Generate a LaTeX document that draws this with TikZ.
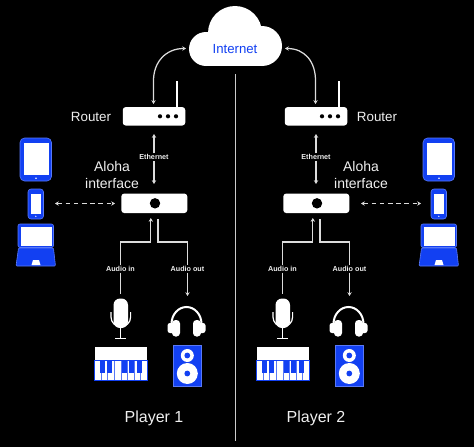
\documentclass[tikz,border=0pt]{standalone}
\usepackage{fontspec}
\setmainfont{Liberation Sans}
\usetikzlibrary{arrows.meta}
\definecolor{aloha}{HTML}{1240F2}
\definecolor{ink}{HTML}{EFEFEF}
\tikzset{
  wire/.style={draw=ink!92!black,line width=1.25pt},
  arr/.style={wire,{Stealth[length=3.8pt,width=4.4pt]}-{Stealth[length=3.8pt,width=4.4pt]}},
  arrend/.style={wire,-{Stealth[length=3.8pt,width=4.4pt]}},
  dash arr/.style={arr,dash pattern=on 4.6pt off 3.6pt},
  box/.style={fill=white,rounded corners=3pt,inner sep=0pt,minimum height=#1},
  lab/.style={text=ink,font=\fontsize{14}{16.5}\selectfont,align=center,inner sep=0pt},
  small/.style={text=ink,font=\bfseries\fontsize{7.2}{9}\selectfont,inner sep=1pt},
  blueline/.style={draw=aloha,line width=.9pt},
}
\newcommand{\devices}[2]{%
\begin{scope}[shift={(#2,0)}]
  % tablet
  \filldraw[fill=aloha,draw=aloha!70!white,line width=.6pt,rounded corners=4.5pt] (20,138) rectangle (51.5,181);
  \fill[white] (23.5,143) rectangle (48.5,175);
  \fill[white] (36,178.2) circle (.9);
  % phone
  \filldraw[fill=aloha,draw=aloha!70!white,line width=.6pt,rounded corners=3pt] (28,189) rectangle (43.5,219);
  \fill[white] (31,193.5) rectangle (41,213.5);
  \fill[white] (35.8,216.3) circle (.7);
  \coordinate (#1devR) at (55,203.5);
  \coordinate (#1devL) at (18,203.5);
  % laptop
  \filldraw[fill=aloha,draw=aloha!70!white,line width=.6pt,rounded corners=2pt] (18,224) rectangle (53.5,247.5);
  \fill[white] (20.5,226.5) rectangle (51.5,245.5);
  \filldraw[fill=aloha,draw=aloha!70!white,line width=.6pt,rounded corners=1pt] (18.5,248) -- (53.5,248) -- (55.5,266) -- (16,266) -- cycle;
  \fill[white] (33,260) -- (39,260) -- (40.5,265) -- (31.5,265) -- cycle;
\end{scope}}
\newcommand{\player}[3]{%
\begin{scope}[shift={(#2,0)}]
  % router
  \draw[white,line width=1.8pt] (177,81) -- (177,108);
  \node[box=18.5pt,minimum width=62.5pt] (#1router) at (154,116.3) {};
  \foreach \x in {160,168,176} \fill[black] (\x,116.3) circle (2.1);
  % interface
  \node[box=19.5pt,minimum width=66pt] (#1iface) at (154.3,203.3) {};
  \fill[black] (155,203.3) circle (5.2);
  % ethernet
  \node[small] (#1eth) at (154,157.3) {Ethernet};
  % audio labels
  \node[small] (#1in) at (120.5,268.7) {Audio in};
  \node[small] (#1out) at (187.5,268.7) {Audio out};
  % mic
  \fill[white,rounded corners=6.5pt] (113.5,298.5) rectangle (128,328);
  \node[inner sep=0pt,minimum size=0pt] (#1mic) at (120.7,294) {};
  \draw[white,line width=1.2pt] (111,312) -- (111,317) arc[start angle=180,end angle=0,radius=9.8] -- (130.6,312);
  \draw[white,line width=1.3pt] (120.7,327) -- (120.7,338) (115,338.5) -- (126.3,338.5);
  % headphones
  \draw[white,line width=2pt] (171.5,324) arc[start angle=180,end angle=360,x radius=15,y radius=17];
  \fill[white,rounded corners=3.5pt] (172,320) rectangle (180,336.5);
  \fill[white,rounded corners=3.5pt] (193,320) rectangle (201,336.5);
  \fill[white,rounded corners=2.5pt] (167.5,323) rectangle (175,333);
  \fill[white,rounded corners=2.5pt] (198,323) rectangle (205.5,333);
  \node[inner sep=0pt,minimum size=0pt] (#1phones) at (187.5,296) {};
  % keyboard
  \fill[white] (94.5,347) rectangle (147,380.5);
  \draw[blueline] (94.5,360.8) -- (147,360.8) -- (147,380.5) -- (94.5,380.5) -- cycle;
  \foreach \i in {1,...,7} \draw[aloha!70!white,line width=.45pt] (94.5+6.56*\i,361) -- (94.5+6.56*\i,380);
  \foreach \x in {100,107.4,122,129.4,136.8} \fill[aloha] (\x,361) rectangle ++(5,12);
  % speaker
  \filldraw[fill=aloha,draw=aloha!70!white,line width=.7pt] (173,345.5) rectangle (201,386);
  \fill[white] (187.3,355.5) circle (6.5);
  \fill[aloha] (187.3,355.5) circle (2.9);
  \fill[white] (187.3,373.5) circle (10.5);
  \fill[aloha] (187.3,373.5) circle (2.9);
  % connectors
  \draw[arrend] (#1in.north) -- (120.5,242) -- (150.8,242) -- (150.8,218);
  \draw[wire] (#1in.south) -- (#1in.south |- #1mic);
  \draw[wire] (158,219) -- (158,242) -- (187.5,242) -- (#1out.north);
  \draw[arrend] (#1out.south) -- (#1out.south |- #1phones);
  % ethernet
  \draw[arrend] (#1eth.north) -- (154,134);
  \draw[arrend] (#1eth.south) -- (154,184);
  % player label
  \node[text=ink,font=\fontsize{16}{18}\selectfont,inner sep=0pt] (#1name) at (154,418) {Player #3};
\end{scope}}
\begin{document}
\begin{tikzpicture}[x=1pt,y=-1pt]
\useasboundingbox (0,0) rectangle (474,447);
\fill[black] (0,0) rectangle (474,447);
% cloud
\fill[white] (206,49) circle (17) (235,33) circle (27) (262,46) circle (20);
\fill[white] (206,40) rectangle (262,66);
\node[inner sep=0pt,text=aloha,font=\fontsize{13.2}{15}\selectfont] (net) at (235,49) {Internet};
\coordinate (netL) at (186,48.5);
\coordinate (netR) at (285,48.5);
% divider
\coordinate (divT) at (235.5,74);
\coordinate (divB) at (235.5,441);
\draw[ink!85!black,line width=1.4pt] (divT) -- (divB);
\devices{L}{0}
\devices{R}{403}
\player{L}{0}{1}
\player{R}{162}{2}
% cloud arcs
\draw[arr] (netL) .. controls (166,48.5) and (153,62) .. (153.5,82) -- (153.5,104);
\draw[arr] (netR) .. controls (305,48.5) and (316,62) .. (315.5,82) -- (315.5,104);
% device arrows
\coordinate (LiL) at (115,203.5);
\coordinate (RiR) at (361,203.5);
\draw[dash arr] (LdevR) -- (LiL);
\draw[dash arr] (RiR) -- (RdevL);
% labels
\node[lab,font=\fontsize{13.4}{16}\selectfont] (rl) at (91,117) {Router};
\node[lab,font=\fontsize{13.4}{16}\selectfont] (rr) at (377,117) {Router};
\node[lab] (al) at (112,175) {Aloha\\interface};
\node[lab] (ar) at (361,175) {Aloha\\interface};
\end{tikzpicture}
\end{document}
